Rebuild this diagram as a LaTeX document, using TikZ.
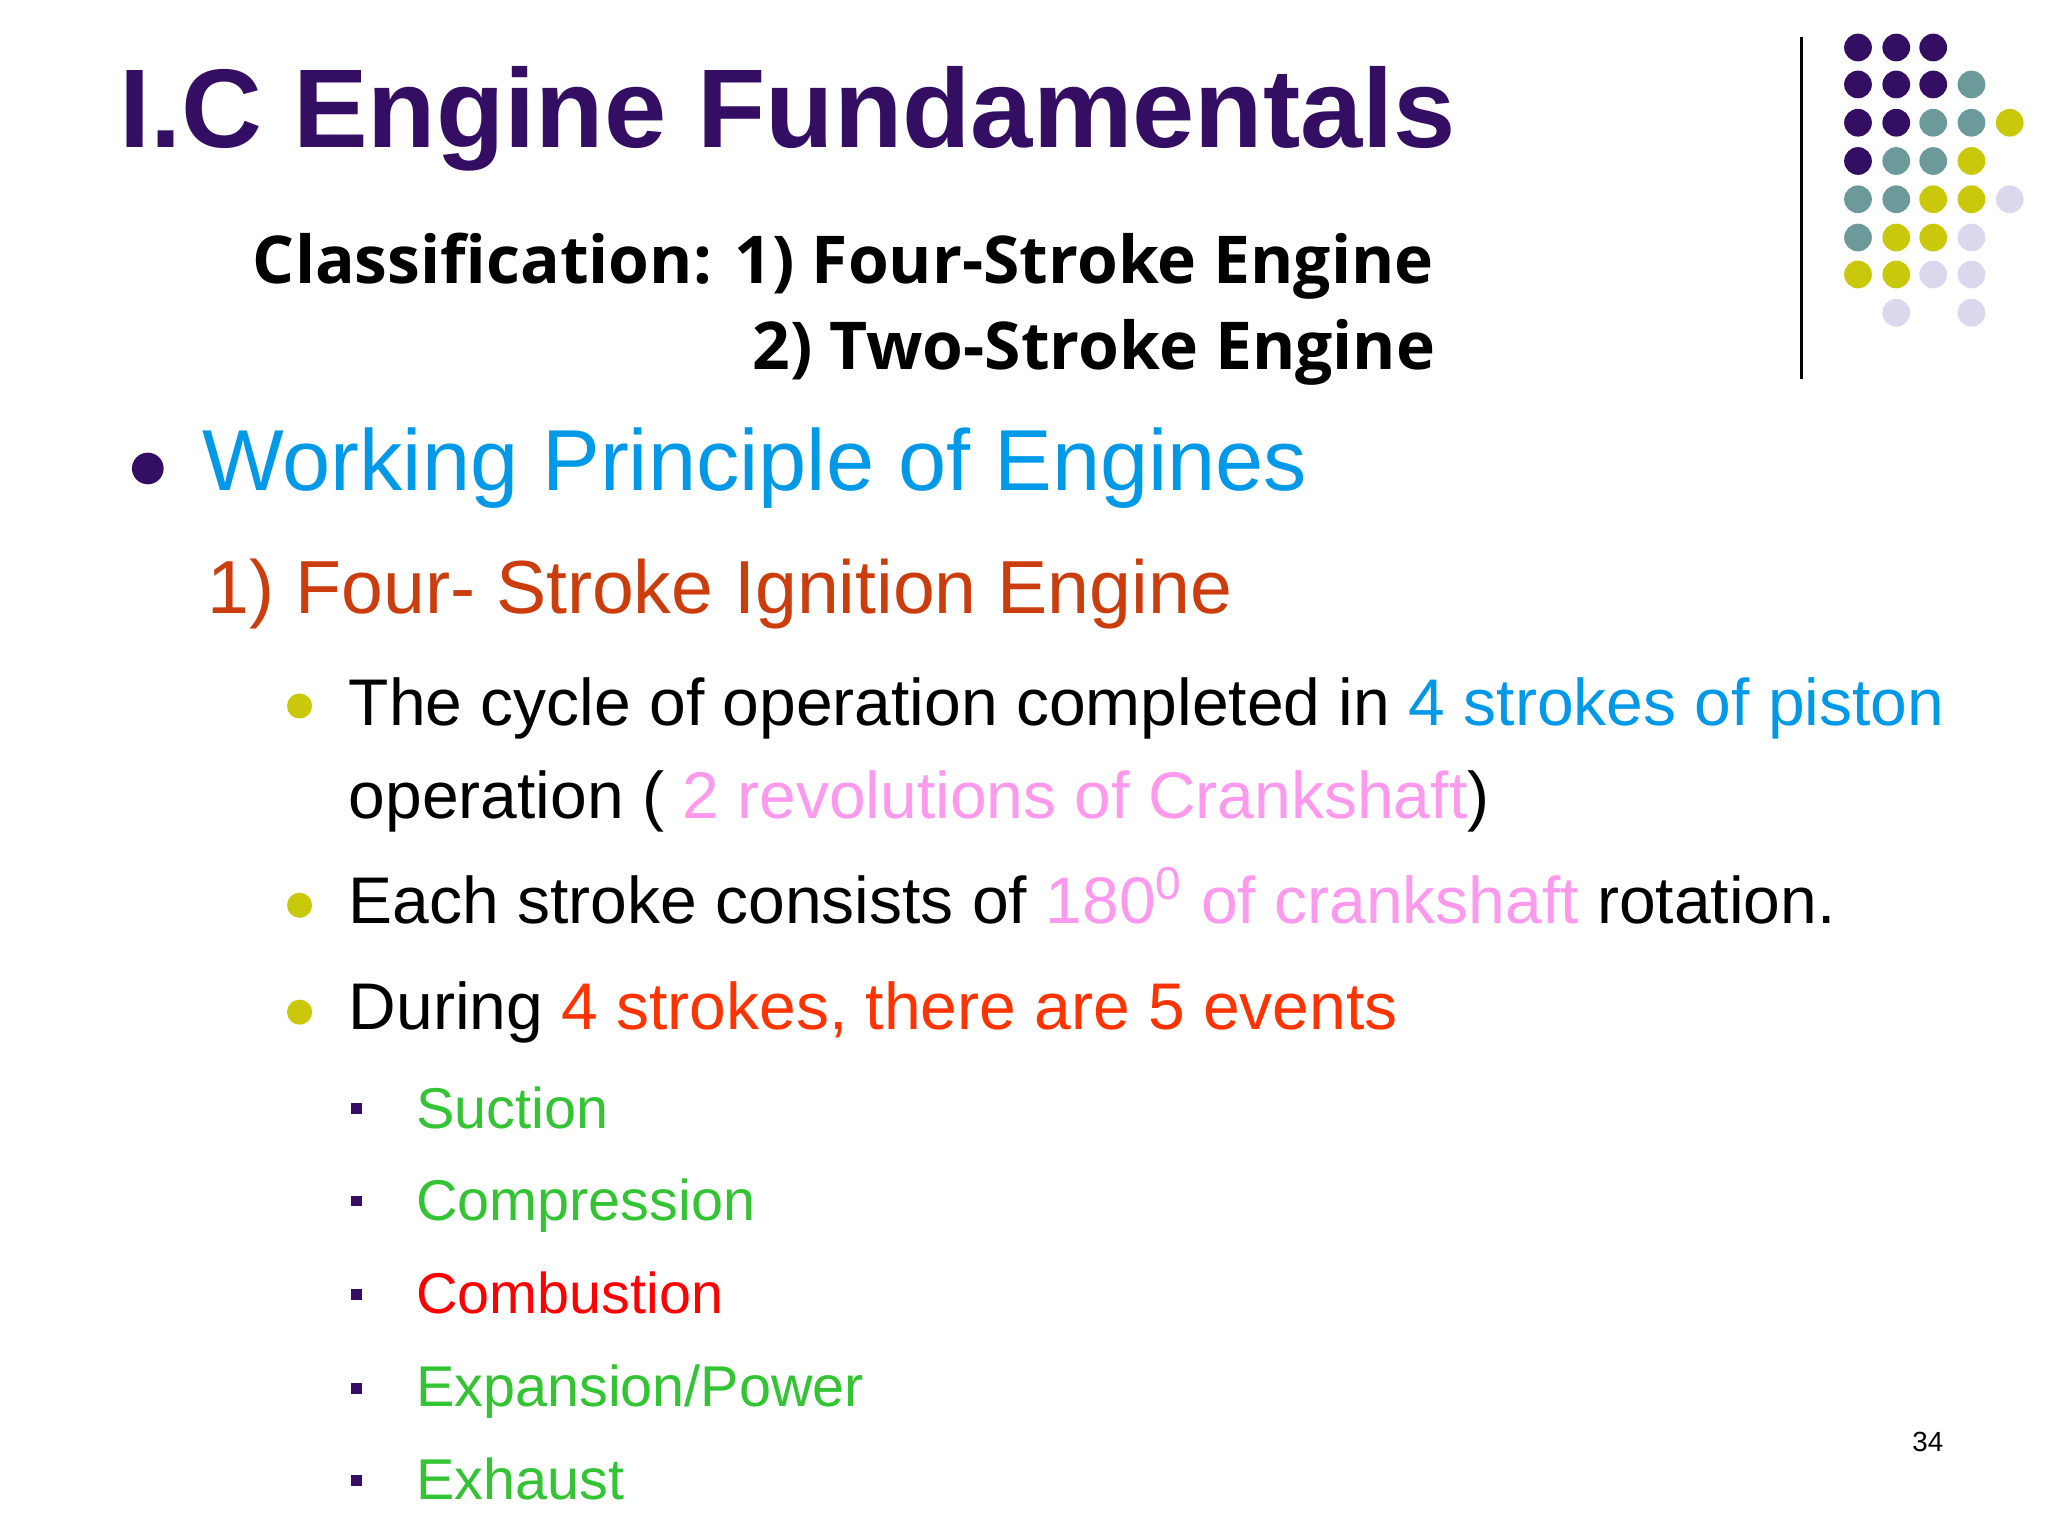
\documentclass[tikz,border=0pt]{standalone}
\usepackage{fontspec}
\setmainfont{Liberation Sans}
\newfontfamily\osans{Open Sans}
\definecolor{tpurple}{HTML}{330E62}
\definecolor{tblue}{HTML}{0099E8}
\definecolor{tpink}{HTML}{FF99EE}
\definecolor{torange}{HTML}{CC3D0E}
\definecolor{tred}{HTML}{FF3300}
\definecolor{tgreen}{HTML}{33C433}
\definecolor{tyellow}{HTML}{C9C80A}
\definecolor{tteal}{HTML}{6C9A9A}
\definecolor{tlav}{HTML}{DAD8EC}
\begin{document}
\begin{tikzpicture}[x=0.5pt,y=-0.5pt,
  txt/.style={anchor=base west,inner sep=0pt},
  body/.style={txt,font=\fontsize{25}{30}\selectfont},
  sub/.style={txt,font=\fontsize{21.8}{25}\selectfont,text=tgreen},
  ybul/.style={fill=tyellow,draw=none},
  sq/.style={fill=tpurple,draw=none}]
\useasboundingbox[fill=white] (0,0) rectangle (1552,1164);
% dots
\foreach \c/\x/\y in {tpurple/1408/36,tpurple/1437/36,tpurple/1465/36,
 tpurple/1408/64,tpurple/1437/64,tpurple/1465/64,tteal/1494/64,
 tpurple/1408/93,tpurple/1437/93,tteal/1465/93,tteal/1494/93,tyellow/1523/93,
 tpurple/1408/122,tteal/1437/122,tteal/1465/122,tyellow/1494/122,
 tteal/1408/151,tteal/1437/151,tyellow/1465/151,tyellow/1494/151,tlav/1523/151,
 tteal/1408/180,tyellow/1437/180,tyellow/1465/180,tlav/1494/180,
 tyellow/1408/208,tyellow/1437/208,tlav/1465/208,tlav/1494/208,
 tlav/1437/237,tlav/1494/237}
 \fill[\c] (\x,\y) circle (10.5);
\draw[line width=1pt,black] (1365,28) -- (1365,287);
\node[txt,text=tpurple,font=\bfseries\fontsize{42.4}{48}\selectfont] (title) at (90,112) {I.C Engine Fundamentals};
\node[anchor=base east,inner sep=0pt,font=\osans\bfseries\fontsize{25}{30}\selectfont] (cl1) at (1087,215) {Classification: 1) Four-Stroke Engine};
\node[anchor=base east,inner sep=0pt,font=\osans\bfseries\fontsize{25}{30}\selectfont] (cl2) at (1088,280) {2) Two-Stroke Engine};
\fill[tpurple] (112,355) circle (12);
\node[txt,text=tblue,font=\fontsize{32.8}{38}\selectfont] (wp) at (153,372) {Working Principle of Engines};
\node[txt,text=torange,font=\fontsize{28.5}{33}\selectfont] (fs) at (157,465) {1) Four- Stroke Ignition Engine};
\fill[ybul] (227,535) circle (9.5);
\fill[ybul] (227,686) circle (9.5);
\fill[ybul] (227,767) circle (9.5);
\node[body] (b1) at (264,550) {The cycle of operation completed in \textcolor{tblue}{4 strokes of piston}};
\node[body] (b1b) at (264,620) {operation ( \textcolor{tpink}{2 revolutions of Crankshaft})};
\node[body] (b2) at (264,700) {Each stroke consists of \textcolor{tpink}{180\textsuperscript{0} of crankshaft} rotation.};
\node[body] (b3) at (264,780) {During \textcolor{tred}{4 strokes, there are 5 events}};
\foreach \y in {840,910,981,1052,1122} \fill[sq] (266,\y-4) rectangle +(8,8);
\node[sub] (s1) at (315,855) {Suction};
\node[sub] (s2) at (315,925) {Compression};
\node[sub,text=red] (s3) at (315,995) {Combustion};
\node[sub] (s4) at (315,1066) {Expansion/Power};
\node[sub] (s5) at (315,1136) {Exhaust};
\node[anchor=base east,inner sep=0pt,font=\fontsize{10.5}{12}\selectfont] (pn) at (1473,1100) {34};
\end{tikzpicture}
\end{document}
